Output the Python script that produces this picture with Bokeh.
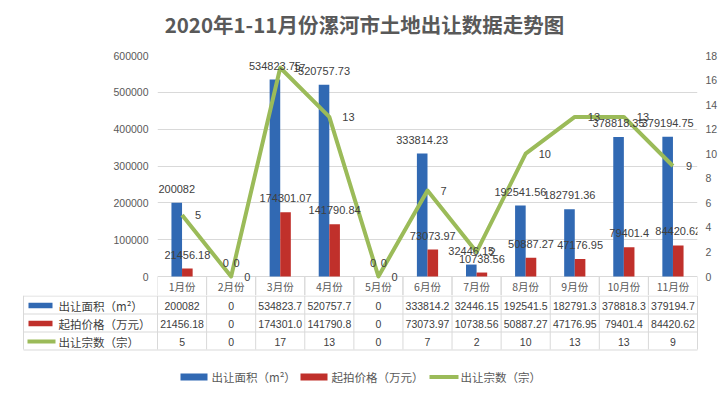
from bokeh.plotting import figure
from bokeh.models import ColumnDataSource, FactorRange, Range1d, LinearAxis, NumeralTickFormatter
from bokeh.transform import dodge
from bokeh.layouts import column
from bokeh.core.properties import value
from bokeh.embed import file_html
from bokeh.resources import INLINE

# ---------------- data ----------------
title_text = "2020年1-11月份漯河市土地出让数据走势图"
months = ["1月份", "2月份", "3月份", "4月份", "5月份", "6月份",
          "7月份", "8月份", "9月份", "10月份", "11月份"]
area = [200082, 0, 534823.75, 520757.73, 0, 333814.23,
        32446.15, 192541.56, 182791.36, 378818.35, 379194.75]
price = [21456.18, 0, 174301.07, 141790.84, 0, 73073.97,
         10738.56, 50887.27, 47176.95, 79401.4, 84420.62]
count = [5, 0, 17, 13, 0, 7, 2, 10, 13, 13, 9]
series_names = ["出让面积（m²）", "起拍价格（万元）", "出让宗数（宗）"]
left_ticks = [0, 100000, 200000, 300000, 400000, 500000, 600000]
right_ticks = [0, 2, 4, 6, 8, 10, 12, 14, 16, 18]

# ---------------- style / layout ----------------
BLUE, RED, GREEN = "#3169B3", "#C0302B", "#9BBB59"
GRIDC, TXT, LBL = "#D9D9D9", "#595959", "#404040"
CJK = "Noto Sans CJK SC"
NUM = "Liberation Sans"

W, H = 728, 397
TITLE_H = 44
FL, FR, FT = 157, 697, 55      # plot frame left / right / top (page px)
ZERO, HB = 276, 295            # value-zero line, header row bottom
ROW_H = 18
TBL_L = 23
col_w = (FR - FL) / len(months)
LMAX, RMAX = left_ticks[-1], right_ticks[-1]
ext = (HB - ZERO) / (ZERO - FT)
BW = 10.6 / col_w


def fmt(v):
    return f"{v:.2f}".rstrip("0").rstrip(".")


def blank(fig):
    fig.frame_align = False
    fig.xgrid.visible = False
    fig.ygrid.visible = False
    return fig


src = ColumnDataSource(dict(
    m=months, area=area, price=price, count=count,
    area_lbl=[fmt(v) for v in area],
    price_lbl=[fmt(v) for v in price],
    count_lbl=[fmt(v) for v in count],
))

# ---------------- title strip ----------------
tt = blank(figure(width=W, height=TITLE_H, x_range=Range1d(0, W), y_range=Range1d(TITLE_H, 0),
                  output_backend="svg", toolbar_location=None,
                  x_axis_location=None, y_axis_location=None,
                  min_border_left=0, min_border_right=0, min_border_top=0, min_border_bottom=0,
                  outline_line_color=None, background_fill_color="white",
                  border_fill_color="white"))
tt.text(x=[W / 2], y=[23], text=[title_text], text_align="center", text_baseline="middle",
        text_font=value(CJK), text_font_size="20.5px", text_font_style="bold",
        text_color=TXT)

# ---------------- main chart ----------------
p = figure(width=W, height=HB - TITLE_H,
           x_range=FactorRange(factors=months, range_padding=0),
           y_range=Range1d(-LMAX * ext, LMAX),
           output_backend="svg", toolbar_location=None,
           x_axis_location=None, y_axis_location="left",
           min_border_left=FL, min_border_right=W - FR,
           min_border_top=FT - TITLE_H, min_border_bottom=0,
           outline_line_color=None,
           background_fill_color="white", border_fill_color="white")
p.frame_align = False
p.extra_y_ranges = {"right": Range1d(-RMAX * ext, RMAX), "px": Range1d(HB, FT)}

ax = p.yaxis[0]
ax.ticker = left_ticks
ax.formatter = NumeralTickFormatter(format="0")
axr = LinearAxis(y_range_name="right", ticker=right_ticks)
p.add_layout(axr, "right")
for a, so in ((ax, 9), (axr, 8)):
    a.axis_line_color = None
    a.major_tick_line_color = None
    a.minor_tick_line_color = None
    a.major_tick_out = 0
    a.major_tick_in = 0
    a.major_label_standoff = so
    a.major_label_text_font = NUM
    a.major_label_text_font_size = "10.5px"
    a.major_label_text_color = TXT

p.ygrid.ticker = left_ticks
p.ygrid.grid_line_color = GRIDC
p.xgrid.visible = False

xb = dodge("m", -BW / 2, range=p.x_range)
xr = dodge("m", BW / 2, range=p.x_range)
p.vbar(x=xb, top="area", width=BW, source=src, fill_color=BLUE, line_color=None)
p.vbar(x=xr, top="price", width=BW, source=src, fill_color=RED, line_color=None)
p.line(x="m", y="count", source=src, y_range_name="right",
       line_color=GREEN, line_width=4, line_join="round")

lab = dict(text_font=value(NUM), text_font_size="11px", text_color=LBL, text_baseline="middle")
p.text(x=xb, y="area", text="area_lbl", source=src, text_align="center", y_offset=-14, **lab)
p.text(x=xr, y="price", text="price_lbl", source=src, text_align="center", y_offset=-14, **lab)
p.text(x="m", y="count", text="count_lbl", source=src, y_range_name="right",
       text_align="left", x_offset=13, **lab)

# header row of the data table (category labels)
p.text(x="m", y=(ZERO + HB) / 2 + 0.5, text="m", source=src, y_range_name="px",
       text_align="center", text_baseline="middle", text_font=value(CJK),
       text_font_size="10.5px", text_color=TXT)
for off in (-0.5, 0.5):
    xd = dodge("m", off, range=p.x_range)
    p.segment(x0=xd, x1=xd, y0=ZERO, y1=HB, source=src, y_range_name="px",
              line_color=GRIDC, line_width=1)

# ---------------- data table + legend ----------------
t = blank(figure(width=W, height=H - HB,
                 x_range=Range1d(TBL_L - 1, FR + 1), y_range=Range1d(H, HB),
                 output_backend="svg", toolbar_location=None,
                 x_axis_location=None, y_axis_location=None,
                 min_border_left=TBL_L - 1, min_border_right=W - FR - 1,
                 min_border_top=0, min_border_bottom=0,
                 outline_line_color=None,
                 background_fill_color="white", border_fill_color="white"))

ys = [HB + 0.5 + k * ROW_H for k in range(4)]
t.segment(x0=[TBL_L] * 4, x1=[FR] * 4, y0=ys, y1=ys, line_color=GRIDC, line_width=1)
xs = [TBL_L] + [FL + i * col_w for i in range(len(months) + 1)]
t.segment(x0=xs, x1=xs, y0=[HB] * len(xs), y1=[HB + 3 * ROW_H] * len(xs),
          line_color=GRIDC, line_width=1)

cell_x, cell_y, cell_t = [], [], []
for r, series in enumerate((area, price, count)):
    for i, v in enumerate(series):
        cell_x.append(FL + (i + 0.5) * col_w)
        cell_y.append(HB + (r + 0.5) * ROW_H + 1)
        cell_t.append(fmt(v)[:8])
t.text(x=cell_x, y=cell_y, text=cell_t, text_align="center", text_baseline="middle",
       text_font=value(NUM), text_font_size="10.5px", text_color=LBL)

# row headers with swatches
row_y = [HB + (r + 0.5) * ROW_H + 1 for r in range(3)]
t.rect(x=[TBL_L + 17], y=[row_y[0]], width=24, height=5.5, fill_color=BLUE, line_color=None)
t.rect(x=[TBL_L + 17], y=[row_y[1]], width=24, height=5.5, fill_color=RED, line_color=None)
t.segment(x0=[TBL_L + 4], x1=[TBL_L + 32], y0=[row_y[2]], y1=[row_y[2]],
          line_color=GREEN, line_width=4)
t.text(x=[TBL_L + 35] * 3, y=row_y, text=series_names, text_align="left",
       text_baseline="middle", text_font=value(CJK), text_font_size="11.5px", text_color=LBL)

# legend at the bottom
LEG_Y = 376.5
t.rect(x=[193.5], y=[LEG_Y], width=27, height=7, fill_color=BLUE, line_color=None)
t.rect(x=[313.5], y=[LEG_Y], width=27, height=7, fill_color=RED, line_color=None)
t.segment(x0=[429], x1=[458], y0=[LEG_Y], y1=[LEG_Y], line_color=GREEN, line_width=4)
t.text(x=[211, 331, 460], y=[LEG_Y] * 3, text=series_names, text_align="left",
       text_baseline="middle", text_font=value(CJK), text_font_size="11.5px", text_color=TXT)

layout = column(tt, p, t, spacing=0)
open("out.html", "w").write(file_html(layout, INLINE))
